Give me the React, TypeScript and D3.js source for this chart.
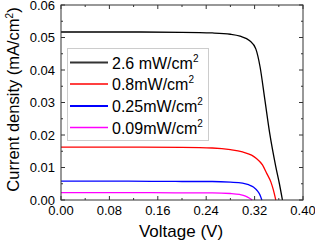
import React from "react";
import * as d3 from "d3";

const seriesNames = ["2.6 mW/cm", "0.8mW/cm", "0.25mW/cm", "0.09mW/cm"];
const seriesColors = ["#000000", "#ff0000", "#0000ff", "#ff00ff"];
const vBlack = [0, 0.1, 0.2, 0.25, 0.28, 0.296, 0.312, 0.322, 0.329, 0.337, 0.345, 0.355, 0.361, 0.366];
const jBlack = [0.0517, 0.0517, 0.0516, 0.0514, 0.051, 0.0504, 0.049, 0.0465, 0.041, 0.0308, 0.0205, 0.0103, 0.005, 0];
const vRed = [0, 0.1, 0.2, 0.25, 0.28, 0.3, 0.315, 0.323, 0.333, 0.34, 0.347, 0.351, 0.355];
const jRed = [0.0163, 0.0163, 0.0162, 0.016, 0.0155, 0.0148, 0.0138, 0.0128, 0.0108, 0.0082, 0.0055, 0.0031, 0];
const vBlue = [0, 0.1, 0.2, 0.25, 0.28, 0.3, 0.31, 0.318, 0.325, 0.329, 0.332];
const jBlue = [0.0058, 0.0058, 0.0057, 0.0057, 0.0055, 0.0052, 0.0047, 0.004, 0.0027, 0.0015, 0];
const vMag = [0, 0.1, 0.2, 0.25, 0.28, 0.295, 0.305, 0.311, 0.316];
const jMag = [0.0023, 0.0023, 0.0022, 0.0022, 0.002, 0.0017, 0.0012, 0.0006, 0];
const xTicks = [0, 0.08, 0.16, 0.24, 0.32, 0.4];
const yTicks = [0, 0.01, 0.02, 0.03, 0.04, 0.05, 0.06];

export default function App() {
  const W = 315, H = 242;
  const L = 61, R = 303, T = 5, B = 200;
  const x = d3.scaleLinear().domain([0, 0.4]).range([L, R]);
  const y = d3.scaleLinear().domain([0, 0.06]).range([B, T]);
  const series = [
    vBlack.map((v, i) => [v, jBlack[i]]),
    vRed.map((v, i) => [v, jRed[i]]),
    vBlue.map((v, i) => [v, jBlue[i]]),
    vMag.map((v, i) => [v, jMag[i]]),
  ];
  const line = d3.line<number[]>().x(d => x(d[0])).y(d => y(d[1])).curve(d3.curveMonotoneX);
  const xMinor = d3.range(0.04, 0.4, 0.08);
  const yMinor = d3.range(0.005, 0.06, 0.01);
  const font = "Liberation Sans, Arial, sans-serif";
  const legY = [62.5, 84, 106, 127.5];
  return (
    <svg width={W} height={H} style={{ position: "absolute", left: 0, top: 0 }} fontFamily={font}>
      <rect width={W} height={H} fill="#fff" />
      <g fill="none" strokeWidth={1.3}>
        {series.map((s, i) => (
          <path key={i} d={line(s) || ""} stroke={seriesColors[i]} />
        ))}
      </g>
      <rect x={L} y={T} width={R - L} height={B - T} fill="none" stroke="#333" strokeWidth={1} />
      {xTicks.map((t, i) => (
        <g key={"xt" + i}>
          <line x1={x(t)} x2={x(t)} y1={B} y2={B - 4} stroke="#333" />
          <line x1={x(t)} x2={x(t)} y1={T} y2={T + 4} stroke="#333" />
          <text x={x(t)} y={215} fontSize={13} textAnchor="middle">{t.toFixed(2)}</text>
        </g>
      ))}
      {xMinor.map((t, i) => (
        <g key={"xm" + i}>
          <line x1={x(t)} x2={x(t)} y1={B} y2={B - 2} stroke="#333" />
          <line x1={x(t)} x2={x(t)} y1={T} y2={T + 2} stroke="#333" />
        </g>
      ))}
      {yTicks.map((t, i) => (
        <g key={"yt" + i}>
          <line x1={L} x2={L + 4} y1={y(t)} y2={y(t)} stroke="#333" />
          <line x1={R} x2={R - 4} y1={y(t)} y2={y(t)} stroke="#333" />
          <text x={L - 6} y={y(t) + 4.5} fontSize={13} textAnchor="end">{t.toFixed(2)}</text>
        </g>
      ))}
      {yMinor.map((t, i) => (
        <g key={"ym" + i}>
          <line x1={L} x2={L + 2} y1={y(t)} y2={y(t)} stroke="#333" />
          <line x1={R} x2={R - 2} y1={y(t)} y2={y(t)} stroke="#333" />
        </g>
      ))}
      <text x={(L + R) / 2 - 1} y={237} fontSize={17} textAnchor="middle">Voltage (V)</text>
      <text transform={`translate(19,${(T + B) / 2 - 3}) rotate(-90)`} fontSize={16.5} textAnchor="middle">
        Current density (mA/cm<tspan dy={-6} fontSize={10}>2</tspan><tspan dy={6}>)</tspan>
      </text>
      <rect x={67.5} y={48.5} width={141} height={92} fill="#fff" stroke="#ccc" strokeWidth={1} />
      {seriesNames.map((n, i) => (
        <g key={"lg" + i}>
          <line x1={70} x2={108} y1={legY[i]} y2={legY[i]} stroke={i === 0 ? "#333" : seriesColors[i]} strokeWidth={i === 0 || i === 2 ? 2 : 1.3} />
          <text x={112} y={legY[i] + 6} fontSize={16}>
            {n}<tspan dy={-7} fontSize={10}>2</tspan>
          </text>
        </g>
      ))}
    </svg>
  );
}
